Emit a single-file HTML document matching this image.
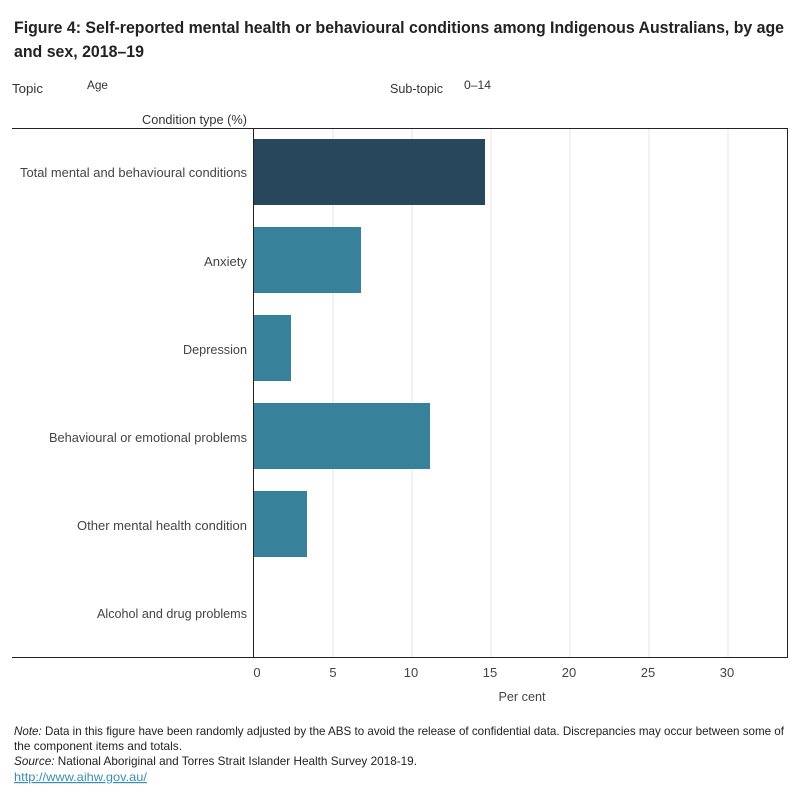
<!DOCTYPE html>
<html><head><meta charset="utf-8"><style>
body{margin:0;background:#fff;width:800px;height:800px;overflow:hidden;}
svg text{font-family:"Liberation Sans",sans-serif;}
</style></head><body>
<svg width="800" height="800" viewBox="0 0 800 800" xmlns="http://www.w3.org/2000/svg">
<text x="14" y="33" font-size="17" font-weight="bold" fill="#222" textLength="770" lengthAdjust="spacingAndGlyphs">Figure 4: Self-reported mental health or behavioural conditions among Indigenous Australians, by age</text>
<text x="14" y="57" font-size="17" font-weight="bold" fill="#222" textLength="130" lengthAdjust="spacingAndGlyphs">and sex, 2018–19</text>
<text x="12" y="93" font-size="13" fill="#333" textLength="31" lengthAdjust="spacingAndGlyphs">Topic</text>
<text x="87" y="89" font-size="12" fill="#333" textLength="21" lengthAdjust="spacingAndGlyphs">Age</text>
<text x="390" y="93" font-size="13" fill="#333" textLength="53" lengthAdjust="spacingAndGlyphs">Sub-topic</text>
<text x="464" y="89" font-size="12" fill="#333" textLength="27" lengthAdjust="spacingAndGlyphs">0–14</text>
<text x="142" y="124" font-size="13" fill="#333" textLength="105" lengthAdjust="spacingAndGlyphs">Condition type (%)</text>
<g stroke="#e6e6e6" stroke-width="1">
<line x1="333" y1="129" x2="333" y2="657"/><line x1="412" y1="129" x2="412" y2="657"/><line x1="491" y1="129" x2="491" y2="657"/><line x1="570" y1="129" x2="570" y2="657"/><line x1="649" y1="129" x2="649" y2="657"/><line x1="728" y1="129" x2="728" y2="657"/>
</g>
<rect x="254" y="139" width="231" height="66" fill="#27485c"/>
<rect x="254" y="227" width="107" height="66" fill="#37829a"/>
<rect x="254" y="315" width="37" height="66" fill="#37829a"/>
<rect x="254" y="403" width="176" height="66" fill="#37829a"/>
<rect x="254" y="491" width="53" height="66" fill="#37829a"/>
<line x1="12" y1="128.5" x2="788" y2="128.5" stroke="#222"/>
<line x1="12" y1="657.5" x2="788" y2="657.5" stroke="#222"/>
<line x1="253.5" y1="129" x2="253.5" y2="657" stroke="#222"/>
<line x1="787.5" y1="129" x2="787.5" y2="657" stroke="#222"/>
<g font-size="13" fill="#444" text-anchor="end">
<text x="247" y="177" textLength="227" lengthAdjust="spacingAndGlyphs">Total mental and behavioural conditions</text>
<text x="247" y="266" textLength="43" lengthAdjust="spacingAndGlyphs">Anxiety</text>
<text x="247" y="354" textLength="64" lengthAdjust="spacingAndGlyphs">Depression</text>
<text x="247" y="442" textLength="198" lengthAdjust="spacingAndGlyphs">Behavioural or emotional problems</text>
<text x="247" y="530" textLength="170" lengthAdjust="spacingAndGlyphs">Other mental health condition</text>
<text x="247" y="618" textLength="150" lengthAdjust="spacingAndGlyphs">Alcohol and drug problems</text>
</g>
<g font-size="13" fill="#444" text-anchor="middle">
<text x="257" y="677">0</text><text x="333" y="677">5</text><text x="411" y="677">10</text><text x="490" y="677">15</text><text x="569" y="677">20</text><text x="648" y="677">25</text><text x="727" y="677">30</text>
<text x="522" y="701" textLength="47" lengthAdjust="spacingAndGlyphs">Per cent</text>
</g>
<g font-size="12" fill="#222">
<text x="14" y="735" textLength="770" lengthAdjust="spacingAndGlyphs"><tspan font-style="italic">Note:</tspan> Data in this figure have been randomly adjusted by the ABS to avoid the release of confidential data. Discrepancies may occur between some of</text>
<text x="14" y="750" textLength="168" lengthAdjust="spacingAndGlyphs">the component items and totals.</text>
<text x="14" y="765" textLength="403" lengthAdjust="spacingAndGlyphs"><tspan font-style="italic">Source:</tspan> National Aboriginal and Torres Strait Islander Health Survey 2018-19.</text>
<text x="14" y="781" fill="#3a8fb0" text-decoration="underline" textLength="133" lengthAdjust="spacingAndGlyphs">http://www.aihw.gov.au/</text>
</g>
</svg>
</body></html>
